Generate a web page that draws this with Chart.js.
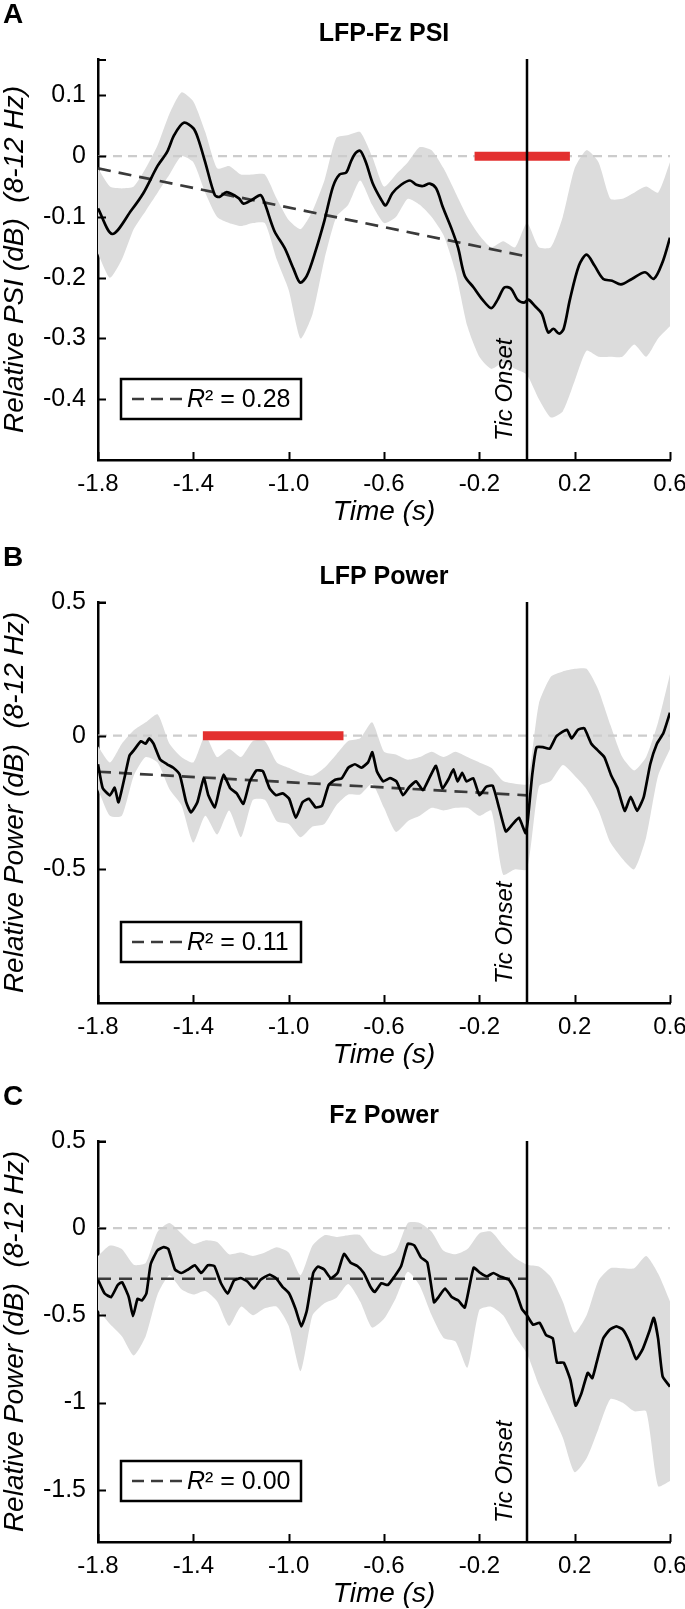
<!DOCTYPE html>
<html>
<head>
<meta charset="utf-8">
<script src="https://cdn.jsdelivr.net/npm/chart.js@4.4.1/dist/chart.umd.min.js"></script>
<style>
  body { margin: 0; background: #fff; }
  .panel { position: absolute; left: 0; width: 685px; height: 527px; }
</style>
</head>
<body>
<div class="panel" style="top:0px"><canvas id="chartA" width="685" height="527"></canvas></div>
<div class="panel" style="top:543px"><canvas id="chartB" width="685" height="527"></canvas></div>
<div class="panel" style="top:1082px"><canvas id="chartC" width="685" height="527"></canvas></div>
<script>
// ---- axis ticks ----
const xTicks = [-1.8, -1.4, -1.0, -0.6, -0.2, 0.2, 0.6]
const xTickLabels = ["-1.8", "-1.4", "-1.0", "-0.6", "-0.2", "0.2", "0.6"]
const yTicksA = [-0.4, -0.3, -0.2, -0.1, 0, 0.1]
const yTickLabelsA = ["-0.4", "-0.3", "-0.2", "-0.1", "0", "0.1"]
const yTicksB = [-0.5, 0, 0.5]
const yTickLabelsB = ["-0.5", "0", "0.5"]
const yTicksC = [-1.5, -1, -0.5, 0, 0.5]
const yTickLabelsC = ["-1.5", "-1", "-0.5", "0", "0.5"]

// ---- shaded error band (common time grid) ----
const bandTimes = [-1.8, -1.75, -1.7, -1.65, -1.6, -1.55, -1.5, -1.45, -1.4, -1.35, -1.3, -1.25, -1.2, -1.15, -1.1, -1.05, -1.0, -0.95, -0.9, -0.85, -0.8, -0.75, -0.7, -0.65, -0.6, -0.55, -0.5, -0.45, -0.4, -0.35, -0.3, -0.25, -0.2, -0.15, -0.1, -0.05, 0, 0.05, 0.1, 0.15, 0.2, 0.25, 0.3, 0.35, 0.4, 0.45, 0.5, 0.55, 0.6]

// ---- panel A : LFP-Fz PSI ----
const timeA = [-1.8, -1.74, -1.66, -1.61, -1.55, -1.51, -1.48, -1.44, -1.40, -1.38, -1.35, -1.31, -1.29, -1.26, -1.21, -1.19, -1.155, -1.118, -1.10, -1.06, -1.017, -0.98, -0.952, -0.924, -0.888, -0.85, -0.814, -0.786, -0.759, -0.74, -0.722, -0.70, -0.676, -0.648, -0.611, -0.593, -0.565, -0.528, -0.491, -0.464, -0.436, -0.408, -0.381, -0.353, -0.316, -0.289, -0.261, -0.224, -0.187, -0.15, -0.123, -0.095, -0.067, -0.04, -0.012, 0.006, 0.034, 0.062, 0.089, 0.111, 0.135, 0.154, 0.18, 0.218, 0.25, 0.283, 0.32, 0.357, 0.394, 0.44, 0.495, 0.532, 0.569, 0.6]
const meanA = [-0.086, -0.128, -0.089, -0.061, -0.016, 0.007, 0.035, 0.055, 0.046, 0.029, -0.01, -0.064, -0.067, -0.059, -0.069, -0.078, -0.072, -0.064, -0.078, -0.123, -0.151, -0.185, -0.208, -0.197, -0.157, -0.106, -0.05, -0.03, -0.027, -0.01, 0.004, 0.009, -0.01, -0.044, -0.072, -0.081, -0.061, -0.047, -0.04, -0.047, -0.049, -0.045, -0.053, -0.084, -0.12, -0.151, -0.197, -0.216, -0.236, -0.25, -0.236, -0.216, -0.218, -0.236, -0.241, -0.236, -0.247, -0.259, -0.29, -0.284, -0.292, -0.284, -0.236, -0.18, -0.162, -0.18, -0.202, -0.205, -0.211, -0.202, -0.191, -0.202, -0.174, -0.134]
const upperA = [-0.02, -0.05, -0.053, -0.05, -0.02, 0.018, 0.07, 0.105, 0.09, 0.04, -0.02, -0.016, -0.03, -0.03, -0.03, -0.07, -0.105, -0.12, -0.09, -0.04, 0.03, 0.035, 0.04, 0.0, -0.05, -0.03, -0.01, 0.015, 0.01, -0.02, -0.06, -0.10, -0.13, -0.15, -0.14, -0.15, -0.11, -0.15, -0.15, -0.10, -0.02, 0.01, -0.01, -0.07, -0.07, -0.06, -0.05, -0.06, -0.01]
const lowerA = [-0.16, -0.20, -0.17, -0.12, -0.09, -0.06, -0.03, 0.0, -0.01, -0.06, -0.10, -0.11, -0.115, -0.11, -0.11, -0.17, -0.22, -0.30, -0.26, -0.17, -0.10, -0.08, -0.04, -0.08, -0.11, -0.10, -0.07, -0.08, -0.10, -0.13, -0.19, -0.28, -0.33, -0.35, -0.34, -0.35, -0.36, -0.40, -0.43, -0.42, -0.37, -0.32, -0.33, -0.33, -0.33, -0.31, -0.33, -0.30, -0.28]
const fitA = [-0.02, -0.165]      // regression at t = -1.8 and t = 0
const sigA = [-0.22, 0.18]        // red significance bar (s)

// ---- panel B : LFP Power ----
const timeB = [-1.8, -1.78, -1.75, -1.73, -1.714, -1.686, -1.668, -1.65, -1.62, -1.60, -1.585, -1.567, -1.54, -1.51, -1.484, -1.457, -1.43, -1.41, -1.383, -1.356, -1.337, -1.31, -1.29, -1.273, -1.245, -1.218, -1.19, -1.163, -1.135, -1.108, -1.08, -1.053, -1.025, -0.998, -0.97, -0.942, -0.915, -0.887, -0.86, -0.832, -0.805, -0.777, -0.75, -0.722, -0.695, -0.667, -0.649, -0.63, -0.603, -0.575, -0.548, -0.52, -0.493, -0.465, -0.437, -0.41, -0.382, -0.355, -0.327, -0.309, -0.291, -0.272, -0.254, -0.226, -0.199, -0.171, -0.144, -0.116, -0.089, -0.061, -0.034, -0.006, 0.003, 0.022, 0.04, 0.067, 0.095, 0.122, 0.15, 0.168, 0.187, 0.214, 0.24, 0.27, 0.297, 0.325, 0.352, 0.38, 0.41, 0.435, 0.462, 0.49, 0.517, 0.545, 0.572, 0.6]
const meanB = [-0.107, -0.197, -0.223, -0.195, -0.249, -0.146, -0.075, -0.055, -0.021, -0.03, -0.01, -0.03, -0.088, -0.107, -0.12, -0.146, -0.249, -0.287, -0.249, -0.159, -0.223, -0.268, -0.197, -0.146, -0.197, -0.216, -0.255, -0.171, -0.13, -0.133, -0.197, -0.223, -0.216, -0.236, -0.307, -0.249, -0.236, -0.268, -0.262, -0.184, -0.165, -0.159, -0.12, -0.107, -0.12, -0.10, -0.062, -0.133, -0.171, -0.159, -0.171, -0.223, -0.191, -0.171, -0.204, -0.159, -0.113, -0.197, -0.159, -0.126, -0.171, -0.139, -0.171, -0.159, -0.223, -0.191, -0.187, -0.274, -0.358, -0.332, -0.307, -0.365, -0.32, -0.146, -0.043, -0.043, -0.049, -0.004, 0.015, 0.022, -0.01, 0.022, 0.028, -0.03, -0.055, -0.081, -0.146, -0.197, -0.281, -0.229, -0.281, -0.229, -0.107, -0.03, 0.009, 0.086]
const upperB = [-0.04, -0.10, -0.03, 0.02, 0.05, 0.08, -0.03, -0.08, -0.10, 0.0, -0.08, -0.05, -0.08, -0.02, -0.02, -0.10, -0.12, -0.14, -0.15, -0.12, -0.07, -0.02, -0.01, 0.05, -0.06, -0.07, -0.09, -0.08, -0.06, -0.08, -0.06, -0.08, -0.10, -0.12, -0.17, -0.18, -0.18, 0.12, 0.22, 0.24, 0.25, 0.25, 0.17, 0.04, -0.08, -0.13, -0.08, 0.05, 0.23]
const lowerB = [-0.20, -0.30, -0.30, -0.15, -0.08, -0.10, -0.20, -0.26, -0.40, -0.30, -0.37, -0.28, -0.38, -0.24, -0.24, -0.32, -0.33, -0.38, -0.34, -0.33, -0.26, -0.22, -0.22, -0.18, -0.27, -0.36, -0.32, -0.30, -0.27, -0.28, -0.27, -0.27, -0.30, -0.28, -0.52, -0.50, -0.50, -0.19, -0.17, -0.11, -0.15, -0.20, -0.28, -0.40, -0.46, -0.50, -0.38, -0.15, -0.05]
const fitB = [-0.135, -0.223]
const sigB = [-1.36, -0.77]

// ---- panel C : Fz Power ----
const timeC = [-1.8, -1.772, -1.745, -1.717, -1.699, -1.671, -1.653, -1.634, -1.616, -1.597, -1.579, -1.551, -1.524, -1.505, -1.477, -1.45, -1.422, -1.394, -1.367, -1.339, -1.312, -1.284, -1.256, -1.229, -1.201, -1.173, -1.146, -1.118, -1.081, -1.053, -1.026, -0.998, -0.971, -0.947, -0.924, -0.897, -0.878, -0.851, -0.823, -0.795, -0.768, -0.74, -0.712, -0.685, -0.657, -0.639, -0.611, -0.584, -0.556, -0.528, -0.5, -0.473, -0.445, -0.418, -0.39, -0.371, -0.344, -0.316, -0.288, -0.261, -0.224, -0.196, -0.169, -0.141, -0.113, -0.076, -0.049, -0.021, -0.003, 0.025, 0.053, 0.08, 0.108, 0.126, 0.154, 0.182, 0.204, 0.228, 0.255, 0.274, 0.292, 0.32, 0.347, 0.375, 0.403, 0.43, 0.458, 0.486, 0.513, 0.532, 0.55, 0.569, 0.6]
const meanC = [-0.296, -0.375, -0.395, -0.326, -0.31, -0.395, -0.504, -0.405, -0.415, -0.375, -0.207, -0.128, -0.109, -0.119, -0.237, -0.257, -0.237, -0.213, -0.257, -0.213, -0.217, -0.316, -0.375, -0.3, -0.287, -0.306, -0.346, -0.296, -0.267, -0.287, -0.336, -0.375, -0.464, -0.563, -0.474, -0.257, -0.221, -0.237, -0.287, -0.257, -0.148, -0.198, -0.217, -0.257, -0.336, -0.366, -0.316, -0.326, -0.277, -0.217, -0.089, -0.099, -0.168, -0.198, -0.425, -0.395, -0.346, -0.395, -0.415, -0.455, -0.227, -0.257, -0.277, -0.257, -0.277, -0.296, -0.356, -0.464, -0.494, -0.553, -0.543, -0.613, -0.632, -0.771, -0.771, -0.87, -1.018, -0.949, -0.83, -0.86, -0.771, -0.632, -0.583, -0.563, -0.583, -0.652, -0.751, -0.692, -0.593, -0.514, -0.632, -0.85, -0.909]
const upperC = [-0.16, -0.10, -0.12, -0.21, -0.20, -0.02, 0.03, -0.03, -0.09, -0.07, -0.08, -0.15, -0.14, -0.16, -0.14, -0.11, -0.14, -0.27, -0.10, -0.04, -0.05, -0.04, -0.04, -0.13, -0.16, -0.13, 0.03, 0.03, -0.02, -0.13, -0.15, -0.12, -0.03, -0.02, -0.10, -0.17, -0.21, -0.22, -0.28, -0.42, -0.60, -0.50, -0.30, -0.23, -0.23, -0.23, -0.16, -0.26, -0.42]
const lowerC = [-0.47, -0.55, -0.62, -0.73, -0.62, -0.38, -0.27, -0.35, -0.38, -0.36, -0.42, -0.56, -0.45, -0.50, -0.46, -0.45, -0.56, -0.82, -0.50, -0.43, -0.40, -0.32, -0.42, -0.57, -0.52, -0.40, -0.25, -0.33, -0.50, -0.63, -0.65, -0.80, -0.47, -0.45, -0.50, -0.62, -0.72, -0.90, -1.05, -1.20, -1.40, -1.32, -1.15, -0.98, -1.0, -1.05, -1.05, -1.48, -1.45]
const fitC = [-0.29, -0.29]

const FONT = "'Liberation Sans', Arial, Helvetica, sans-serif"
Chart.defaults.font.family = FONT
Chart.defaults.color = "#000"

function zip(xs, ys) {
    const n = Math.min(xs.length, ys.length)
    const out = []
    for (let i = 0; i < n; i++) out.push({ x: xs[i], y: ys[i] })
    return out
}

function panelPlugin(letter, title, r2Text) {
    return {
        id: "panelExtras" + letter,
        afterDraw(chart) {
            const ctx = chart.ctx
            const area = chart.chartArea
            const xs = chart.scales.x
            const ys = chart.scales.y
            ctx.save()
            // inward tick marks (matlab style)
            ctx.strokeStyle = "#000"
            ctx.lineWidth = 2
            ctx.beginPath()
            ys.ticks.forEach(t => {
                const y = Math.round(ys.getPixelForValue(t.value)) + 0.5
                ctx.moveTo(area.left, y); ctx.lineTo(area.left + 8, y)
            })
            ctx.moveTo(area.left, area.top + 1); ctx.lineTo(area.left + 8, area.top + 1)
            xs.ticks.forEach(t => {
                const x = Math.round(xs.getPixelForValue(t.value)) + 0.5
                ctx.moveTo(x, area.bottom); ctx.lineTo(x, area.bottom - 8)
            })
            ctx.stroke()

            ctx.fillStyle = "#000"
            ctx.textBaseline = "middle"
            // panel letter
            ctx.font = "bold 28px " + FONT
            ctx.textAlign = "left"
            ctx.fillText(letter, 3, 15)
            // title, centred over the plot area
            ctx.font = "bold 25px " + FONT
            ctx.textAlign = "center"
            ctx.fillText(title, (area.left + area.right) / 2, 34)

            // Tic Onset label
            ctx.save()
            ctx.translate(xs.getPixelForValue(0) - 22, area.bottom - 19)
            ctx.rotate(-Math.PI / 2)
            ctx.font = "italic 24px " + FONT
            ctx.textAlign = "left"
            ctx.fillText("Tic Onset", 0, 0)
            ctx.restore()

            // legend box
            const bx = area.left + 23, bw = 180, bh = 40
            const by = area.bottom - 41 - bh
            ctx.lineWidth = 2.5
            ctx.strokeStyle = "#000"
            ctx.strokeRect(bx, by, bw, bh)
            ctx.strokeStyle = "#3a3a3a"
            ctx.setLineDash([12, 7])
            ctx.beginPath()
            ctx.moveTo(bx + 11, by + bh / 2); ctx.lineTo(bx + 62, by + bh / 2)
            ctx.stroke()
            ctx.setLineDash([])
            ctx.textAlign = "left"
            let tx = bx + 66
            const ty = by + bh / 2 + 1
            ctx.font = "italic 25px " + FONT
            ctx.fillText("R", tx, ty)
            tx += ctx.measureText("R").width
            ctx.font = "25px " + FONT
            ctx.fillText("\u00B2 = " + r2Text, tx, ty)
            ctx.restore()
        }
    }
}

function makePanel(id, opt) {
    const datasets = [
        { data: zip(opt.time, opt.mean), borderColor: "#000", borderWidth: 2.7, tension: opt.tension, order: 1 },
        { data: [{ x: -1.8, y: opt.fit[0] }, { x: 0, y: opt.fit[1] }], borderColor: "#3a3a3a", borderWidth: 2.7, borderDash: [13, 8], order: 2 },
        { data: [{ x: 0, y: opt.yMin }, { x: 0, y: opt.yMax }], borderColor: "#000", borderWidth: 2.5, order: 0 },
        { data: [{ x: -1.8, y: 0 }, { x: 0.6, y: 0 }], borderColor: "#cccccc", borderWidth: 2.2, borderDash: [9, 6], order: 4 },
        { data: zip(bandTimes, opt.upper), borderWidth: 0, borderColor: "rgba(0,0,0,0)", tension: 0.2, order: 10 },
        { data: zip(bandTimes, opt.lower), borderWidth: 0, borderColor: "rgba(0,0,0,0)", backgroundColor: "#dcdcdc", fill: "-1", tension: 0.2, order: 10 }
    ]
    if (opt.sig) {
        datasets.push({ data: [{ x: opt.sig[0], y: 0 }, { x: opt.sig[1], y: 0 }], borderColor: "#e3302f", borderWidth: 9, borderCapStyle: "butt", order: 3 })
    }
    return new Chart(document.getElementById(id), {
        type: "line",
        data: { datasets },
        options: {
            responsive: false,
            animation: false,
            devicePixelRatio: 1,
            layout: { padding: { left: 0, right: 15, top: 59, bottom: 0 } },
            elements: { point: { radius: 0 } },
            plugins: {
                legend: { display: false },
                tooltip: { enabled: false },
                title: { display: false }
            },
            scales: {
                x: {
                    type: "linear",
                    min: -1.8, max: 0.6,
                    grid: { display: false, drawTicks: false },
                    border: { display: true, color: "#000", width: 2.5 },
                    afterBuildTicks: s => { s.ticks = xTicks.map(v => ({ value: v })) },
                    afterFit: s => { s.height = 67; s.paddingLeft = 0; s.paddingRight = 0 },
                    ticks: { autoSkip: false, maxRotation: 0, padding: 10, font: { size: 24 }, callback: (v, i) => xTickLabels[i] },
                    title: { display: true, text: "Time (s)", font: { size: 28, style: "italic" }, padding: { top: 0, bottom: -2 } }
                },
                y: {
                    type: "linear",
                    min: opt.yMin, max: opt.yMax,
                    grid: { display: false, drawTicks: false },
                    border: { display: true, color: "#000", width: 2.5 },
                    afterBuildTicks: s => { s.ticks = opt.yTicks.map(v => ({ value: v })) },
                    afterFit: s => { s.width = 98; s.paddingTop = 0; s.paddingBottom = 0 },
                    ticks: { autoSkip: false, padding: 12, font: { size: 25 }, callback: (v, i) => opt.yLabels[i] },
                    title: { display: true, text: opt.yTitle, font: { size: 28, style: "italic" }, padding: { top: -2, bottom: 0 } }
                }
            }
        },
        plugins: [panelPlugin(opt.letter, opt.title, opt.r2)]
    })
}

makePanel("chartA", {
    letter: "A", title: "LFP-Fz PSI", yTitle: "Relative PSI (dB)  (8-12 Hz)",
    time: timeA, mean: meanA, upper: upperA, lower: lowerA, fit: fitA, sig: sigA,
    yMin: -0.5, yMax: 0.16, yTicks: yTicksA, yLabels: yTickLabelsA, r2: "0.28", tension: 0.3
})
makePanel("chartB", {
    letter: "B", title: "LFP Power", yTitle: "Relative Power (dB)  (8-12 Hz)",
    time: timeB, mean: meanB, upper: upperB, lower: lowerB, fit: fitB, sig: sigB,
    yMin: -1, yMax: 0.5, yTicks: yTicksB, yLabels: yTickLabelsB, r2: "0.11", tension: 0.15
})
makePanel("chartC", {
    letter: "C", title: "Fz Power", yTitle: "Relative Power (dB)  (8-12 Hz)",
    time: timeC, mean: meanC, upper: upperC, lower: lowerC, fit: fitC, sig: null,
    yMin: -1.8, yMax: 0.5, yTicks: yTicksC, yLabels: yTickLabelsC, r2: "0.00", tension: 0.15
})
</script>
</body>
</html>
